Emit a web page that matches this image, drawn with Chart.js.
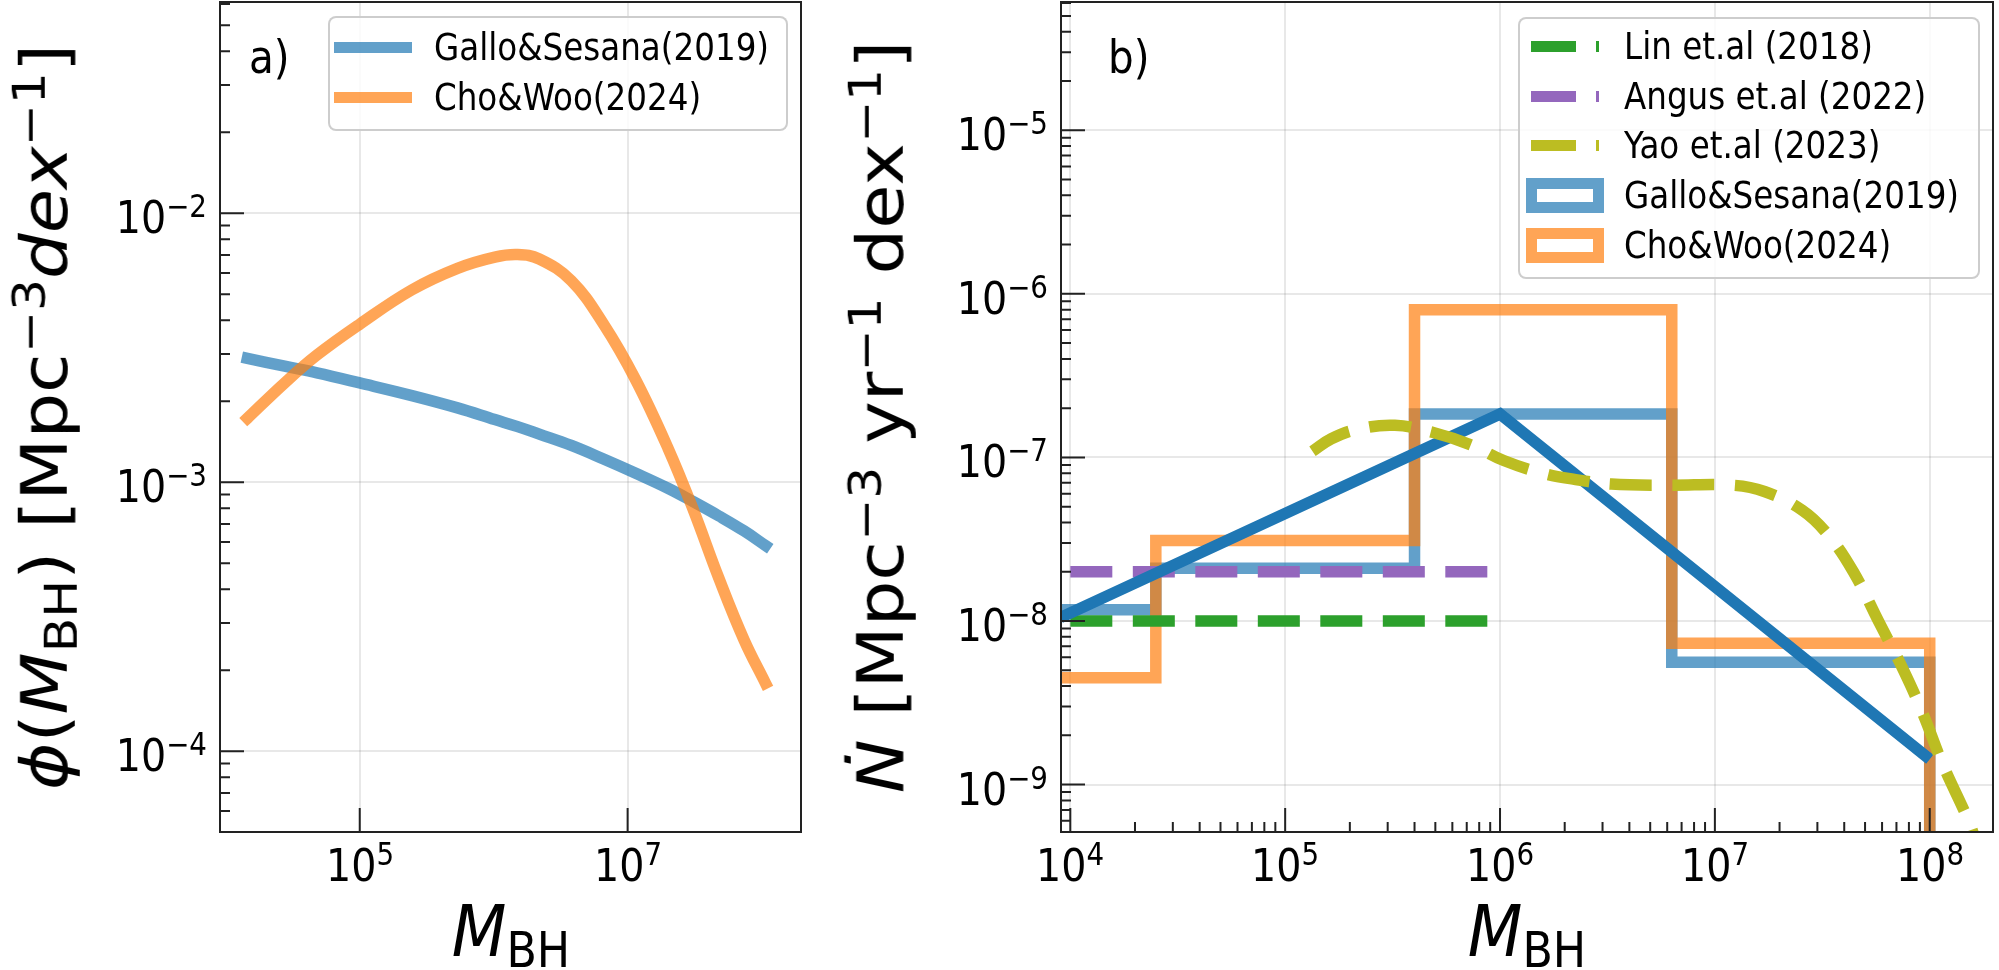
<!DOCTYPE html>
<html>
<head>
<meta charset="utf-8">
<script src="https://cdn.jsdelivr.net/npm/chart.js@4.4.0/dist/chart.umd.min.js"></script>
<style>
  html, body { margin: 0; padding: 0; background: #fff; }
  #fig { position: relative; width: 1999px; height: 970px; overflow: hidden; font-family: 'DejaVu Sans', sans-serif; color: #000; }
  canvas { position: absolute; top: 0; }
  .anchor { position: absolute; width: 0; height: 0; transform-origin: 0 0; }
  .anchor > span { position: absolute; left: 0; top: 0; white-space: nowrap; line-height: 1; }
  sup { font-size: 0.7em; vertical-align: 0.5em; line-height: 0; }
  sub { font-size: 0.7em; vertical-align: -0.22em; line-height: 0; }
  .lg { position: absolute; border: 2px solid rgba(200,200,200,0.9); border-radius: 8px; background: rgba(255,255,255,0.8); box-sizing: border-box; }
  .sw { position: absolute; box-sizing: border-box; }
</style>
</head>
<body>
<div id="fig">
  <canvas id="chartA" width="1000" height="970" style="left:0"></canvas>
  <canvas id="chartB" width="999" height="970" style="left:1000px"></canvas>
</div>
<script>
// ---------- panel a) : mass function ----------
const massA = [1.45e4, 2.75e4, 4.79e4, 1.0e5, 2.45e5, 5.37e5, 1.02e6, 1.51e6, 2.19e6, 3.8e6, 6.61e6, 1.15e7, 2.0e7, 3.09e7, 4.79e7, 7.41e7, 1.07e8];
const phiGallo = [2.89e-3, 2.70e-3, 2.55e-3, 2.34e-3, 2.10e-3, 1.89e-3, 1.71e-3, 1.61e-3, 1.51e-3, 1.37e-3, 1.22e-3, 1.08e-3, 9.5e-4, 8.47e-4, 7.5e-4, 6.59e-4, 5.82e-4];
const phiCho = [1.73e-3, 2.34e-3, 2.97e-3, 3.87e-3, 5.19e-3, 6.24e-3, 6.87e-3, 7.02e-3, 6.76e-3, 5.61e-3, 3.87e-3, 2.40e-3, 1.34e-3, 7.91e-4, 4.41e-4, 2.59e-4, 1.79e-4];

// ---------- panel b) : TDE rates ----------
const binEdges = [1.6e3, 2.5e4, 4.0e5, 6.3e6, 1.0e8];
const rateGallo = [1.17e-8, 2.1e-8, 1.84e-7, 5.6e-9];
const rateCho = [4.5e-9, 3.1e-8, 8.0e-7, 7.3e-9];
const modelMass = [9.0e3, 1.0e6, 1.0e8];
const modelRate = [1.05e-8, 1.84e-7, 1.43e-9];
const linMass = [1e4, 1e6];
const linRate = [1e-8, 1e-8];
const angusMass = [1e4, 1e6];
const angusRate = [2.0e-8, 2.0e-8];
const yaoMass = [1.34e5, 1.64e5, 2.15e5, 3.24e5, 4.89e5, 7.36e5, 1.04e6, 1.56e6, 2.19e6, 3.30e6, 6.10e6, 1.21e7, 1.70e7, 2.55e7, 3.36e7, 4.41e7, 5.79e7, 7.59e7, 9.33e7, 1.15e8, 1.51e8, 1.65e8];
const yaoRate = [1.09e-7, 1.30e-7, 1.48e-7, 1.57e-7, 1.42e-7, 1.19e-7, 9.57e-8, 8.04e-8, 7.36e-8, 6.87e-8, 6.76e-8, 6.76e-8, 6.19e-8, 4.76e-8, 3.37e-8, 2.0e-8, 9.9e-9, 4.93e-9, 2.68e-9, 1.33e-9, 6.08e-10, 4.4e-10];

// ---------- axes ----------
const xLim = [9.05e3, 1.97e8];
const yLimA = [5.01e-5, 6.1e-2];
const yLimB = [5.13e-10, 6.08e-5];
const xTicksA = [1e5, 1e7];
const xExpA = ['5', '7'];
const yTicksA = [1e-4, 1e-3, 1e-2];
const yExpA = ['−4', '−3', '−2'];
const xTicksB = [1e4, 1e5, 1e6, 1e7, 1e8];
const xExpB = ['4', '5', '6', '7', '8'];
const yTicksB = [1e-9, 1e-8, 1e-7, 1e-6, 1e-5];
const yExpB = ['−9', '−8', '−7', '−6', '−5'];

const BLUE = '#1f77b4', BLUE_A = 'rgba(31,119,180,0.7)', ORANGE_A = 'rgba(255,127,14,0.7)';
const GREEN = '#2ca02c', PURPLE = '#9467bd', OLIVE = '#bcbd22';
const LW = 11.5, DASH = [42, 20.5];
const gridColor = 'rgba(0,0,0,0.09)';

const xy = (xs, ys) => xs.map((x, i) => ({x: x, y: ys[i]}));

function stepPoints(edges, vals) {
    const pts = vals.map((v, i) => ({x: edges[i], y: v}));
    const last = edges[edges.length - 1];
    pts.push({x: last, y: vals[vals.length - 1]});
    pts.push({x: last, y: 1e-12});
    return pts;
}

function minors(lo, hi) {
    const out = [];
    for (let e = Math.floor(Math.log10(lo)); e <= Math.ceil(Math.log10(hi)); e++) {
        for (let k = 2; k <= 9; k++) {
            const v = k * Math.pow(10, e);
            if (v > lo && v < hi) out.push(v);
        }
    }
    return out;
}

// spines + inward tick marks
function frame(xMajor, xMinor, yMajor, yMinor) {
    return {
        id: 'frame',
        afterDraw(chart) {
            const {ctx, chartArea: a, scales: {x, y}} = chart;
            ctx.save();
            ctx.strokeStyle = '#222';
            ctx.lineWidth = 2;
            ctx.beginPath();
            xMajor.forEach(v => { const p = x.getPixelForValue(v); ctx.moveTo(p, a.bottom); ctx.lineTo(p, a.bottom - 24); });
            xMinor.forEach(v => { const p = x.getPixelForValue(v); ctx.moveTo(p, a.bottom); ctx.lineTo(p, a.bottom - 10); });
            yMajor.forEach(v => { const p = y.getPixelForValue(v); ctx.moveTo(a.left, p); ctx.lineTo(a.left + 24, p); });
            yMinor.forEach(v => { const p = y.getPixelForValue(v); ctx.moveTo(a.left, p); ctx.lineTo(a.left + 10, p); });
            ctx.stroke();
            ctx.strokeRect(a.left, a.top, a.width, a.height);
            ctx.restore();
        }
    };
}

function makeChart(id, datasets, pad, xMajor, xMinor, yMajor, yLim) {
    return new Chart(document.getElementById(id), {
        type: 'line',
        data: { datasets: datasets },
        options: {
            responsive: false,
            animation: false,
            devicePixelRatio: 1,
            events: [],
            layout: { padding: pad },
            plugins: { legend: { display: false }, tooltip: { enabled: false } },
            elements: { point: { radius: 0 }, line: { fill: false } },
            scales: {
                x: {
                    type: 'logarithmic', min: xLim[0], max: xLim[1], bounds: 'data',
                    ticks: { display: false },
                    grid: { color: gridColor, lineWidth: 2, drawTicks: false },
                    border: { display: false },
                    afterBuildTicks: s => { s.ticks = xMajor.map(v => ({value: v})); }
                },
                y: {
                    type: 'logarithmic', min: yLim[0], max: yLim[1], bounds: 'data',
                    ticks: { display: false },
                    grid: { color: gridColor, lineWidth: 2, drawTicks: false },
                    border: { display: false },
                    afterBuildTicks: s => { s.ticks = yMajor.map(v => ({value: v})); }
                }
            }
        },
        plugins: [frame(xMajor, xMinor, yMajor, minors(yLim[0], yLim[1]))]
    });
}

const line = (data, color, extra) => Object.assign({
    data: data, borderColor: color, borderWidth: LW, clip: 0,
    borderCapStyle: 'square', tension: 0.4
}, extra || {});

// first dataset is drawn on top
const chartA = makeChart('chartA', [
    line(xy(massA, phiCho), ORANGE_A),
    line(xy(massA, phiGallo), BLUE_A)
], {left: 220, right: 199, top: 2, bottom: 138}, xTicksA, [], yTicksA, yLimA);

const chartB = makeChart('chartB', [
    line(xy(yaoMass, yaoRate), OLIVE, {borderDash: DASH, borderCapStyle: 'butt'}),
    line(xy(modelMass, modelRate), BLUE, {tension: 0, borderCapStyle: 'butt'}),
    line(xy(angusMass, angusRate), PURPLE, {tension: 0, borderDash: DASH, borderCapStyle: 'butt'}),
    line(xy(linMass, linRate), GREEN, {tension: 0, borderDash: DASH, borderCapStyle: 'butt'}),
    line(stepPoints(binEdges, rateCho), ORANGE_A, {tension: 0, stepped: true, borderCapStyle: 'butt'}),
    line(stepPoints(binEdges, rateGallo), BLUE_A, {tension: 0, stepped: true, borderCapStyle: 'butt'})
], {left: 61, right: 6, top: 2, bottom: 138}, xTicksB, minors(xLim[0], xLim[1]), yTicksB, yLimB);

// ---------- text (html overlays) ----------
const fig = document.getElementById('fig');

function place(html, x, y, size, ax, ay, rot) {
    const a = document.createElement('div');
    a.className = 'anchor';
    a.style.left = x + 'px';
    a.style.top = y + 'px';
    a.style.transform = 'scaleX(0.88)' + (rot ? ' rotate(-90deg)' : '');
    const s = document.createElement('span');
    s.innerHTML = html;
    s.style.fontSize = size + 'px';
    s.style.transform = 'translate(' + (-ax * 100) + '%,' + (-ay * 100) + '%)';
    a.appendChild(s);
    fig.appendChild(a);
}

function axisText(chart, offX, xTicks, xExp, yTicks, yExp) {
    const a = chart.chartArea;
    xTicks.forEach((v, i) => {
        place('10<sup>' + xExp[i] + '</sup>', offX + chart.scales.x.getPixelForValue(v), a.bottom + 11, 45, 0.5, 0);
    });
    yTicks.forEach((v, i) => {
        place('10<sup>' + yExp[i] + '</sup>', offX + a.left - 13, chart.scales.y.getPixelForValue(v) + 4, 45, 1, 0.5);
    });
    place('<i>M</i><sub>BH</sub>', offX + (a.left + a.right) / 2, 895, 72, 0.5, 0);
}

axisText(chartA, 0, xTicksA, xExpA, yTicksA, yExpA);
axisText(chartB, 1000, xTicksB, xExpB, yTicksB, yExpB);

place('<i>ϕ</i>(<i>M</i><sub>BH</sub>) [Mpc<sup>−3</sup><i>dex</i><sup>−1</sup>]', 45, 417, 72, 0.5, 0.5, true);
place('<i>Ṅ</i> [Mpc<sup>−3</sup> yr<sup>−1</sup> dex<sup>−1</sup>]', 881, 417, 72, 0.5, 0.5, true);
place('a)', 249, 57, 46, 0, 0.5);
place('b)', 1108, 57, 46, 0, 0.5);

// ---------- legends ----------
function box(x, y, w, h, cls, style) {
    const d = document.createElement('div');
    d.className = cls;
    d.style.left = x + 'px'; d.style.top = y + 'px';
    d.style.width = w + 'px'; d.style.height = h + 'px';
    Object.assign(d.style, style || {});
    fig.appendChild(d);
    return d;
}

const legendA = ['Gallo&Sesana(2019)', 'Cho&Woo(2024)'];
const legendAColors = [BLUE_A, ORANGE_A];
const legendARows = [47, 97];
box(328, 16, 460, 115, 'lg');
legendA.forEach((t, i) => {
    box(334, legendARows[i] - 5.5, 78, 11, 'sw', {background: legendAColors[i]});
    place(t.replace('&', '&amp;'), 434, legendARows[i], 37, 0, 0.5);
});

const legendB = ['Lin et.al (2018)', 'Angus et.al (2022)', 'Yao et.al (2023)', 'Gallo&Sesana(2019)', 'Cho&Woo(2024)'];
const legendBColors = [GREEN, PURPLE, OLIVE, BLUE_A, ORANGE_A];
const legendBRows = [46, 96, 145, 195, 245];
box(1518, 17, 462, 262, 'lg');
legendB.forEach((t, i) => {
    const yc = legendBRows[i];
    if (i < 3) {
        box(1531, yc - 5.5, 45, 11, 'sw', {background: legendBColors[i]});
        box(1596, yc - 5.5, 3, 11, 'sw', {background: legendBColors[i]});
    } else {
        box(1526, yc - 17.5, 78, 35, 'sw', {border: '11px solid ' + legendBColors[i]});
    }
    place(t.replace('&', '&amp;'), 1624, yc, 37, 0, 0.5);
});
</script>
</body>
</html>
